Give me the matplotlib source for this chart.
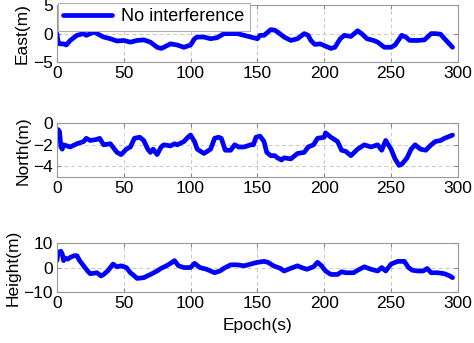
import matplotlib
matplotlib.use("Agg")
import matplotlib.pyplot as plt

# 값은 그림에서 눈으로 읽은 추정치
EAST_T = [0, 1, 2, 5, 7, 10, 15, 20, 22, 25, 28, 30, 35, 40, 45, 50, 55, 60, 65, 70,
          75, 78, 80, 85, 90, 95, 100, 103, 105, 110, 115, 120, 125, 130, 135, 140,
          145, 150, 152, 155, 160, 163, 165, 170, 175, 180, 185, 188, 190, 193, 197,
          200, 205, 208, 212, 215, 220, 225, 228, 232, 237, 240, 245, 250, 253, 258,
          261, 264, 270, 275, 280, 283, 287, 290, 296]
EAST = [0.0, -1.5, -1.8, -1.8, -2.0, -1.2, -0.3, 0.0, -0.3, 0.0, 0.3, 0.0, -0.6, -0.9,
        -1.3, -1.2, -1.5, -1.2, -1.1, -1.5, -2.4, -2.6, -2.4, -1.8, -2.0, -2.4, -2.0,
        -0.9, -0.6, -0.6, -0.9, -0.7, 0.0, 0.0, 0.0, -0.3, -0.6, -0.9, -0.3, -0.3, 0.7,
        0.6, 0.3, -0.6, -1.2, -0.9, 0.0, -0.3, -1.2, -1.9, -1.8, -2.1, -2.6, -2.4, -0.9,
        -0.3, -0.5, 0.5, 0.0, -0.9, -1.2, -1.5, -2.4, -2.4, -2.0, -0.3, -0.6, -1.2, -1.2,
        -1.1, 0.0, 0.0, -0.1, -0.9, -2.4]

NORTH_T = [0, 1, 2, 3, 4, 5, 10, 15, 20, 22, 25, 30, 32, 35, 40, 45, 48, 52, 55, 58,
           62, 65, 68, 70, 72, 75, 78, 80, 85, 88, 90, 95, 98, 100, 103, 105, 110, 115,
           118, 121, 123, 126, 130, 133, 136, 140, 145, 147, 149, 152, 155, 157, 160,
           163, 165, 168, 170, 175, 180, 185, 188, 192, 195, 200, 201, 205, 210, 213,
           216, 220, 225, 230, 235, 240, 243, 246, 250, 253, 256, 258, 262, 265, 268,
           272, 276, 280, 283, 287, 290, 296]
NORTH = [-1.1, -0.6, -0.8, -2.2, -2.4, -2.0, -2.2, -1.9, -1.7, -1.4, -1.6, -1.5, -1.4,
         -2.0, -1.9, -2.7, -2.9, -2.4, -2.2, -1.4, -1.3, -1.6, -2.4, -2.7, -2.4, -2.9,
         -2.2, -2.0, -2.1, -1.9, -2.0, -1.7, -1.3, -1.1, -1.7, -2.4, -2.8, -2.4, -1.4,
         -1.3, -1.4, -2.5, -2.5, -2.0, -2.2, -2.2, -2.0, -2.0, -1.3, -1.2, -1.7, -2.7,
         -3.0, -3.0, -3.2, -3.4, -3.2, -3.3, -2.8, -2.7, -2.2, -2.0, -1.4, -1.3, -0.9,
         -1.3, -1.7, -2.5, -2.6, -3.0, -2.4, -2.0, -2.2, -2.0, -2.5, -1.6, -2.4, -3.3,
         -3.9, -3.8, -3.2, -2.4, -2.0, -2.4, -2.5, -2.0, -1.7, -1.6, -1.4, -1.1]

HEIGHT_T = [0, 1, 3, 4, 5, 6, 8, 10, 13, 15, 17, 20, 23, 25, 30, 33, 35, 38, 42, 45, 48,
            52, 55, 58, 60, 65, 70, 75, 78, 82, 85, 88, 91, 95, 100, 103, 107, 112, 118,
            122, 125, 130, 135, 140, 143, 147, 150, 155, 158, 162, 167, 170, 175, 180,
            183, 187, 192, 195, 198, 201, 205, 210, 213, 216, 222, 225, 230, 235, 240,
            243, 246, 250, 255, 260, 263, 266, 270, 274, 277, 280, 285, 290, 294, 296]
HEIGHT = [2.8, 6.2, 6.6, 5.5, 2.8, 3.9, 3.4, 4.1, 4.8, 4.8, 2.8, 0.7, -1.4, -2.5, -2.1,
          -3.4, -2.8, -1.4, 1.4, 0.3, 0.7, 0.0, -2.1, -3.4, -4.4, -4.1, -2.8, -1.4, -0.3,
          0.7, 1.7, 2.8, 0.7, 0.0, 0.0, 1.7, 0.0, -0.7, -2.1, -1.4, -0.3, 1.1, 1.1, 0.7,
          1.1, 1.7, 2.1, 2.5, 2.1, 0.7, -0.3, -1.4, -0.3, 0.7, 0.0, -0.7, 0.3, 2.1, 0.7,
          -1.4, -2.8, -2.8, -1.7, -2.1, -2.1, -1.1, 0.3, -0.7, -1.4, 0.0, -1.4, 1.4, 2.5,
          2.5, 0.0, -1.1, -1.4, -1.4, -0.4, -2.1, -2.1, -2.5, -3.4, -4.1]

PANELS = [
    (EAST_T, EAST, "East(m)", (-5, 5), [-5, 0, 5], [0.985, 0.819]),
    (NORTH_T, NORTH, "North(m)", (-5, 0), [-4, -2, 0], [0.641, 0.483]),
    (HEIGHT_T, HEIGHT, "Height(m)", (-10, 10), [-10, 0, 10], [0.292, 0.148]),
]

plt.rcParams["font.family"] = ["Liberation Sans", "DejaVu Sans"]
plt.rcParams["font.size"] = 12.5

fig = plt.figure(figsize=(4.74, 3.43), dpi=100)
axes = []
for t, y, label, ylim, yticks, (top, bot) in PANELS:
    ax = fig.add_axes([0.120, bot, 0.846, top - bot])
    line, = ax.plot(t, y, color="#0000ff", lw=3.4, solid_joinstyle="round",
                    solid_capstyle="round")
    ax.set_xlim(0, 300)
    ax.set_ylim(*ylim)
    ax.set_xticks([0, 50, 100, 150, 200, 250, 300])
    ax.set_yticks(yticks)
    ax.set_ylabel(label, labelpad=2)
    ax.grid(True, ls=(0, (4, 3)), color="#c8c8c8", lw=0.7)
    ax.tick_params(direction="in", length=3, top=True, right=True, color="#8a8a8a",
                   pad=3)
    for s in ax.spines.values():
        s.set_color("#9a9a9a")
        s.set_linewidth(0.8)
    axes.append((ax, line))

ax0, line0 = axes[0]
leg = ax0.legend([line0], ["No interference"], loc="upper left",
                 bbox_to_anchor=(0.003, 1.04), borderaxespad=0, handlelength=2.7,
                 handletextpad=0.5, borderpad=0.3, fancybox=False, framealpha=1,
                 fontsize=13)
leg.get_frame().set_edgecolor("#b0b0b0")
leg.get_frame().set_linewidth(0.8)

axes[2][0].set_xlabel("Epoch(s)", labelpad=5)

fig.savefig("out.png", dpi=100)
